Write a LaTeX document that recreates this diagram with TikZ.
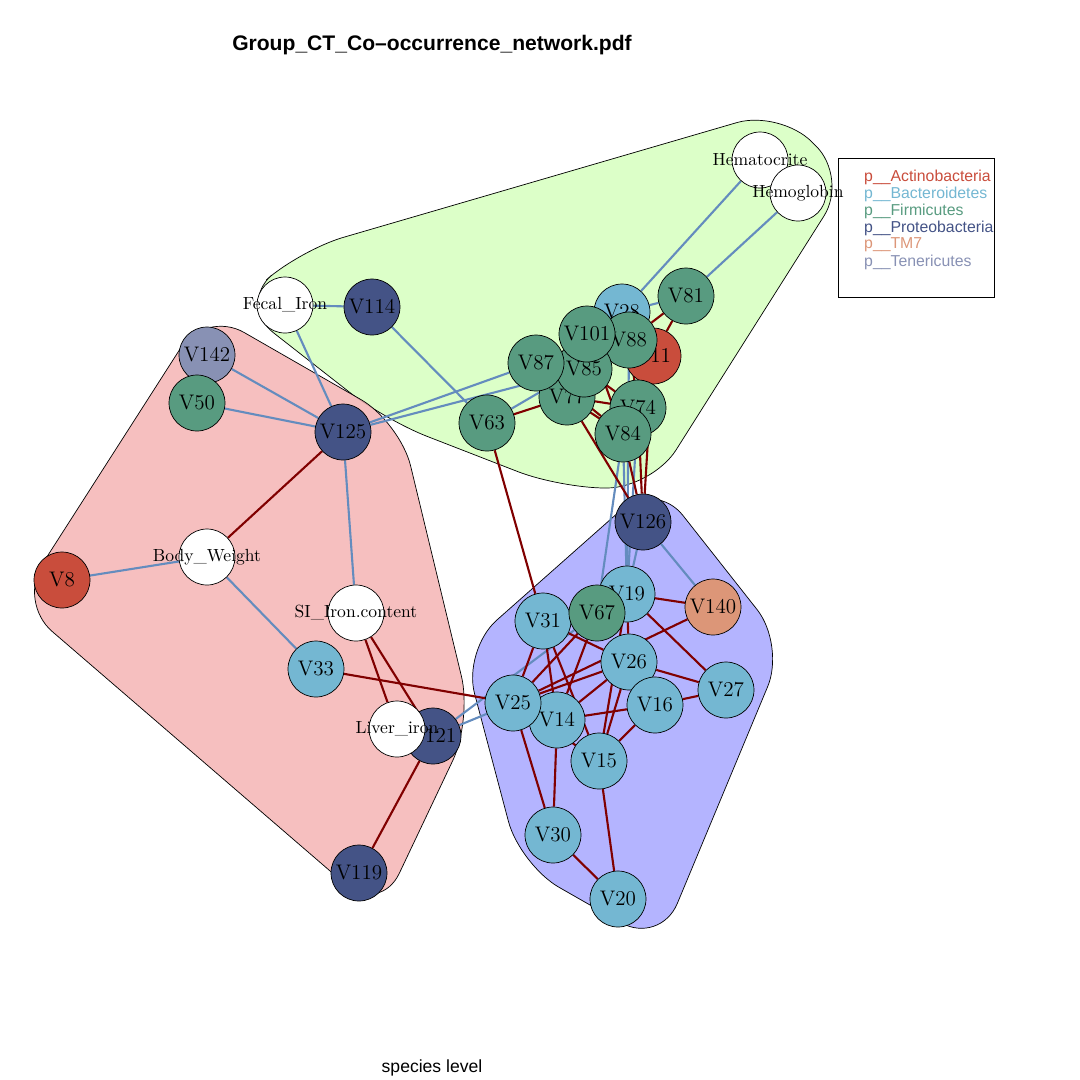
\documentclass[tikz,border=0pt]{standalone}
\usepackage{fontspec}
\newfontfamily\sans{Liberation Sans}
\usetikzlibrary{backgrounds}
\pgfdeclarelayer{edges}
\pgfsetlayers{background,edges,main}
\definecolor{actino}{RGB}{201,77,60}
\definecolor{bacte}{RGB}{116,183,210}
\definecolor{firmi}{RGB}{88,155,128}
\definecolor{proteo}{RGB}{68,83,134}
\definecolor{tmseven}{RGB}{220,150,120}
\definecolor{teneri}{RGB}{136,145,180}
\definecolor{hullgreen}{RGB}{220,255,200}
\definecolor{hullred}{RGB}{245,180,180}
\definecolor{hullblue}{RGB}{180,180,255}
\definecolor{posedge}{RGB}{128,0,0}
\definecolor{negedge}{RGB}{100,140,190}
\tikzset{
  otu/.style={circle, draw, thin, minimum size=1.12cm, inner sep=0pt, font=\large},
  trait/.style={otu, fill=white, label={[font=\normalsize]center:#1}},
  poslink/.style={posedge, line width=1.2pt},
  neglink/.style={negedge, line width=1.2pt},
  hull/.style={draw, thin, rounded corners=0.9cm},
  legend/.style={font=\sans\small, anchor=west}
}
\begin{document}
\begin{tikzpicture}[x=0.02cm, y=-0.02cm]
\useasboundingbox (0,0) rectangle (1080,1080);
% hulls
\begin{scope}[on background layer]
  \draw[hull, fill=hullgreen] (238,305) -- (300,250) -- (780,110) -- (848,178) -- (652,488) -- (560,488) -- (385,420) -- cycle;
  \draw[hull, fill=hullred, fill opacity=0.85] (205,310) -- (400,422) -- (472,720) -- (380,914) -- (18,602) -- cycle;
  \draw[hull, fill=hullblue] (463,650) -- (655,480) -- (785,645) -- (660,945) -- (520,865) -- cycle;
\end{scope}
% nodes
\node[trait=Hematocrite] (Hct) at (760,160) {};
\node[trait=Hemoglobin] (Hgb) at (798,193) {};
\node[trait=Fecal\_Iron] (FeI) at (285,305) {};
\node[otu, fill=proteo] (V114) at (372,307) {V114};
\node[otu, fill=teneri] (V142) at (207,355) {V142};
\node[otu, fill=firmi] (V50) at (197,403) {V50};
\node[otu, fill=proteo] (V125) at (343,432) {V125};
\node[otu, fill=firmi] (V81) at (686,296) {V81};
\node[otu, fill=bacte] (V28) at (622,312) {V28};
\node[otu, fill=actino] (V11) at (653,356) {V11};
\node[otu, fill=firmi] (V88) at (629,340) {V88};
\node[otu, fill=firmi] (V77) at (567,397) {V77};
\node[otu, fill=firmi] (V85) at (584,369) {V85};
\node[otu, fill=firmi] (V101) at (587,334) {V101};
\node[otu, fill=firmi] (V87) at (536,363) {V87};
\node[otu, fill=firmi] (V74) at (638,408) {V74};
\node[otu, fill=firmi] (V84) at (623,434) {V84};
\node[otu, fill=firmi] (V63) at (487,423) {V63};
\node[otu, fill=proteo] (V126) at (643,522) {V126};
\node[trait=Body\_Weight] (BW) at (207,557) {};
\node[otu, fill=actino] (V8) at (62,580) {V8};
\node[trait=SI\_Iron.content] (SIF) at (356,613) {};
\node[otu, fill=bacte] (V33) at (316,669) {V33};
\node[otu, fill=proteo] (V121) at (433,736) {V121};
\node[trait=Liver\_iron] (LiF) at (397,729) {};
\node[otu, fill=proteo] (V119) at (359,873) {V119};
\node[otu, fill=bacte] (V19) at (627,594) {V19};
\node[otu, fill=bacte] (V31) at (543,621) {V31};
\node[otu, fill=firmi] (V67) at (597,613) {V67};
\node[otu, fill=tmseven] (V140) at (713,607) {V140};
\node[otu, fill=bacte] (V26) at (629,662) {V26};
\node[otu, fill=bacte] (V27) at (726,690) {V27};
\node[otu, fill=bacte] (V16) at (655,705) {V16};
\node[otu, fill=bacte] (V15) at (599,761) {V15};
\node[otu, fill=bacte] (V14) at (557,720) {V14};
\node[otu, fill=bacte] (V25) at (513,703) {V25};
\node[otu, fill=bacte] (V30) at (553,835) {V30};
\node[otu, fill=bacte] (V20) at (618,899) {V20};
% edges
\begin{pgfonlayer}{edges}
\foreach \a/\b in {Hct/V28, Hgb/V81, FeI/V114, FeI/V125, V114/V63, V142/V125, V50/V125,
  V125/V87, V125/V85, V125/SIF, BW/V8, BW/V33, V28/V81, V88/V63, V28/V77,
  V126/V140, V126/V19, V84/V19, V74/V19, V84/V67, V88/V19, V121/V25, V121/V67}
  \draw[neglink] (\a) -- (\b);
\foreach \a/\b in {V125/BW, SIF/LiF, SIF/V121, V121/V119, V33/V25, V63/V31, V63/V77,
  V81/V11, V81/V88, V88/V74, V11/V84, V77/V84, V85/V74, V101/V84, V87/V84, V77/V74,
  V77/V126, V84/V126, V74/V126, V11/V126,
  V31/V25, V31/V14, V31/V15, V31/V26, V67/V25, V67/V14, V19/V140, V19/V27, V19/V26,
  V19/V15, V140/V25, V26/V25, V26/V14, V26/V27, V26/V15, V16/V27, V16/V14, V16/V15,
  V25/V30, V14/V30, V15/V20, V30/V20, V25/V15}
  \draw[poslink] (\a) -- (\b);
\end{pgfonlayer}
% legend
\draw (838,158) rectangle (994,297);
\node[legend, text=actino] (L1) at (858,177) {p\_\_Actinobacteria};
\node[legend, text=bacte] (L2) at (858,194) {p\_\_Bacteroidetes};
\node[legend, text=firmi] (L3) at (858,211) {p\_\_Firmicutes};
\node[legend, text=proteo] (L4) at (858,228) {p\_\_Proteobacteria};
\node[legend, text=tmseven] (L5) at (858,245) {p\_\_TM7};
\node[legend, text=teneri] (L6) at (858,262) {p\_\_Tenericutes};
% titles
\node[font=\sans\bfseries\large] (title) at (432,45) {Group\_CT\_Co\textendash occurrence\_network.pdf};
\node[font=\sans] (sub) at (432,1068) {species level};
\end{tikzpicture}
\end{document}
